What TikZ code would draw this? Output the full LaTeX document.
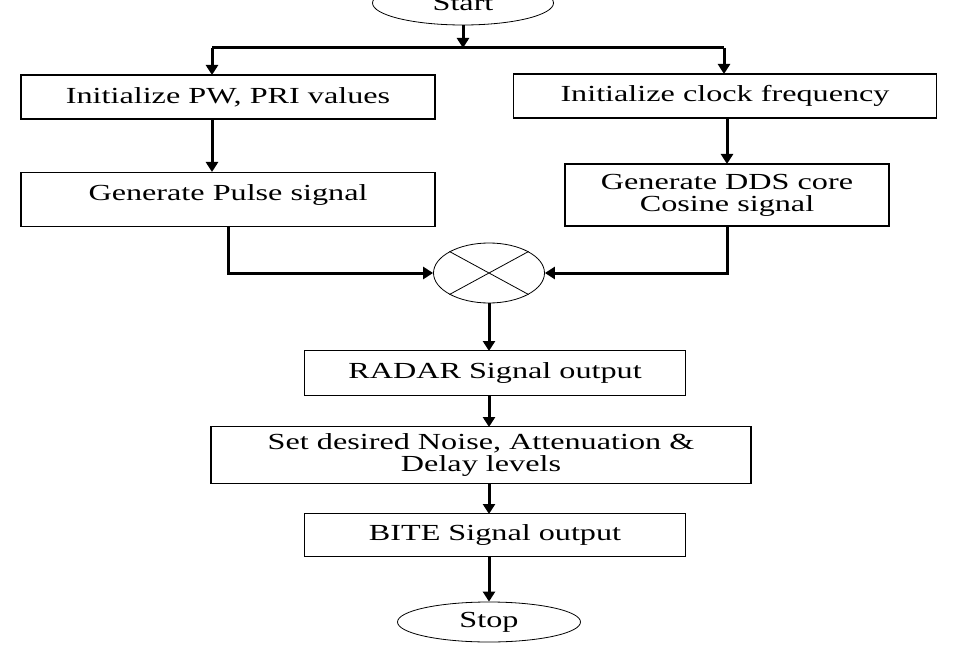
\documentclass[tikz,border=0pt]{standalone}
\usepackage{fontspec}
\setmainfont{Liberation Serif}[FakeStretch=1.4]
\usetikzlibrary{arrows.meta,shapes.geometric}
\begin{document}
\begin{tikzpicture}[x=1pt,y=-1pt,
  box/.style={draw,line width=1.2pt,font=\fontsize{23}{22}\selectfont,align=center,inner sep=0pt},
  term/.style={draw,ellipse,line width=0.8pt,font=\fontsize{23}{22}\selectfont,inner sep=0pt},
  arr/.style={line width=3pt,-{Triangle[length=10pt,width=12pt]}},
  ln/.style={line width=3pt}]
\useasboundingbox (0,0) rectangle (960,660);
\fill[white] (0,0) rectangle (960,660);
\node[term,minimum width=181pt,minimum height=44pt] (start) at (463,3) {Start};
\node[box,minimum width=414pt,minimum height=44pt] (b1) at (228,97) {Initialize PW, PRI values};
\node[box,minimum width=423pt,minimum height=44pt] (b2) at (725,96) {Initialize clock frequency};
\node[box,minimum width=414pt,minimum height=54pt,anchor=north] (b3) at (228,172) {\raisebox{14pt}{Generate Pulse signal}};
\node[box,minimum width=324pt,minimum height=62pt] (b4) at (727,195) {Generate DDS core\\Cosine signal};
\node[draw,ellipse,line width=0.8pt,minimum width=111pt,minimum height=60pt,inner sep=0pt] (mix) at (489,273) {};
\draw[line width=0.8pt] (mix.north west) -- (mix.south east) (mix.north east) -- (mix.south west);
\node[box,minimum width=381pt,minimum height=45pt] (b5) at (495,373) {RADAR Signal output};
\node[box,minimum width=540pt,minimum height=57pt] (b6) at (481,455) {Set desired Noise, Attenuation \&\\Delay levels};
\node[box,minimum width=381pt,minimum height=43pt] (b7) at (495,535) {BITE Signal output};
\node[term,minimum width=183pt,minimum height=40pt] (stop) at (489,622) {Stop};
\coordinate (j) at (463,48);
\draw[arr] (start.south) -- (j);
\draw[ln] (212,48) -- (724,48);
\draw[arr] (212,48) -- (212,75);
\draw[arr] (724,48) -- (724,74);
\draw[arr] (212,119) -- (212,172);
\draw[arr] (727,118) -- (727,164);
\draw[arr] (228,226) |- (mix.west);
\draw[arr] (727,226) |- (mix.east);
\draw[arr] (mix.south) -- (489,351);
\draw[arr] (489,396) -- (489,427);
\draw[arr] (489,484) -- (489,514);
\draw[arr] (489,557) -- (stop.north);
\end{tikzpicture}
\end{document}
